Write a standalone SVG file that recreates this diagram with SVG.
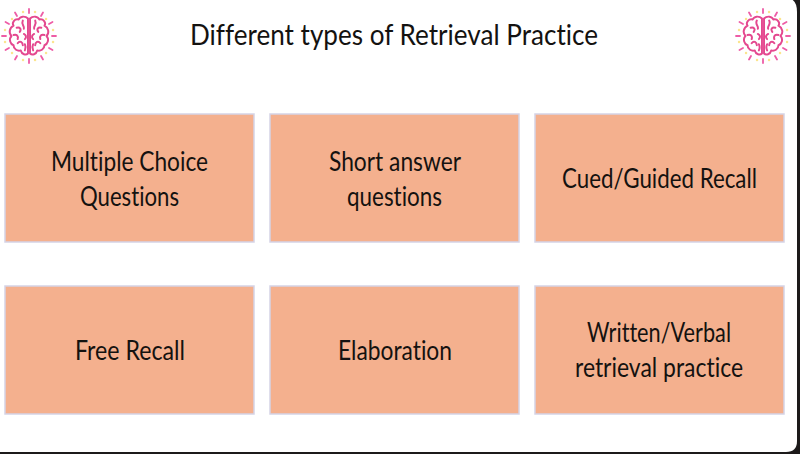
<svg xmlns="http://www.w3.org/2000/svg" xmlns:xlink="http://www.w3.org/1999/xlink" width="800" height="454" viewBox="0 0 800 454">
<style>
.box{fill:#f4b08e;stroke:#d5d3e6;stroke-width:1.5}
text{font-family:"Lato","Noto Sans",sans-serif;fill:#141210;text-anchor:start;font-variant-ligatures:none}
.l{font-size:26px}
.t{font-size:29px}
.ray{stroke:#ee5da6;stroke-width:1.8;stroke-linecap:round;fill:none}
.dot{stroke:#fbe58f;stroke-width:2.4;stroke-linecap:round;fill:none}
.br{stroke:#e4488f;stroke-width:1.9;stroke-linecap:round;stroke-linejoin:round;fill:none}
</style>
<defs>
<g id="brain">
<path class="ray" d="M0-23v-4M0 23v4M-23 0h-4M23 0h4M-12-20l-2-3.500M12-20l2-3.500M-12 20l-2 3.500M12 20l2 3.500M-20-12l-3.500-2M20-12l3.500-2M-20 12l-3.500 2M20 12l3.500 2"/>
<path class="dot" d="M-6-24h.1M6-24h.1M-6 24h.1M6 24h.1M-24-6h.1M24-6h.1M-24 6h.1M24 6h.1M-17-17h.1M17-17h.1M-17 17h.1M17 17h.1"/>
<g transform="scale(1.03)">
<path class="br" d="M-1-17C-4-20-9-19-10-16C-14-17-17-13-15-10C-19-8-20-3-17 0C-20 3-18 8-15 9C-15 13-11 15-8 14C-7 18-3 19-1 17ZM1-17C4-20 9-19 10-16C14-17 17-13 15-10C19-8 20-3 17 0C20 3 18 8 15 9C15 13 11 15 8 14C7 18 3 19 1 17Z"/>
<path class="br" d="M-6-15C-8-11-4-10-5-7M-12-8C-9-9-7-7-9-4M-15-1C-12-2-10 0-11 3M-11 7C-9 4-6 6-6 9M-5-2C-3-1-2 1-4 3M-4 8C-3 10-3 12-4 14M6-15C8-11 4-10 5-7M12-8C9-9 7-7 9-4M15-1C12-2 10 0 11 3M11 7C9 4 6 6 6 9M5-2C3-1 2 1 4 3M4 8C3 10 3 12 4 14"/>
</g>
</g>
</defs>
<rect width="800" height="454" fill="#1c1a1a"/>
<path d="M-2-2H786Q797-2 797 12V441Q797 452 786 452H-2Z" fill="#fff"/>
<g id="icon-left"><use xlink:href="#brain" href="#brain" x="29" y="36"/></g>
<g id="icon-right"><use xlink:href="#brain" href="#brain" x="763" y="36"/></g>
<g id="title"><text class="t" x="190" y="45" textLength="408" lengthAdjust="spacingAndGlyphs">Different types of Retrieval Practice</text></g>
<g id="node-1"><rect class="box" x="5" y="114" width="249" height="128"/>
<text class="l" x="51" y="171" textLength="157" lengthAdjust="spacingAndGlyphs">Multiple Choice</text>
<text class="l" x="80" y="206" textLength="99" lengthAdjust="spacingAndGlyphs">Questions</text></g>
<g id="node-2"><rect class="box" x="270" y="114" width="249" height="128"/>
<text class="l" x="329" y="171" textLength="132" lengthAdjust="spacingAndGlyphs">Short answer</text>
<text class="l" x="347" y="206" textLength="95" lengthAdjust="spacingAndGlyphs">questions</text></g>
<g id="node-3"><rect class="box" x="535" y="114" width="249" height="128"/>
<text class="l" x="562" y="188" textLength="195" lengthAdjust="spacingAndGlyphs">Cued/Guided Recall</text></g>
<g id="node-4"><rect class="box" x="5" y="286" width="249" height="128"/>
<text class="l" x="75" y="360" textLength="110" lengthAdjust="spacingAndGlyphs">Free Recall</text></g>
<g id="node-5"><rect class="box" x="270" y="286" width="249" height="128"/>
<text class="l" x="338" y="360" textLength="114" lengthAdjust="spacingAndGlyphs">Elaboration</text></g>
<g id="node-6"><rect class="box" x="535" y="286" width="249" height="128"/>
<text class="l" x="587" y="342" textLength="144" lengthAdjust="spacingAndGlyphs">Written/Verbal</text>
<text class="l" x="575" y="377" textLength="168" lengthAdjust="spacingAndGlyphs">retrieval practice</text></g>
<g id="connectors"/>
</svg>
